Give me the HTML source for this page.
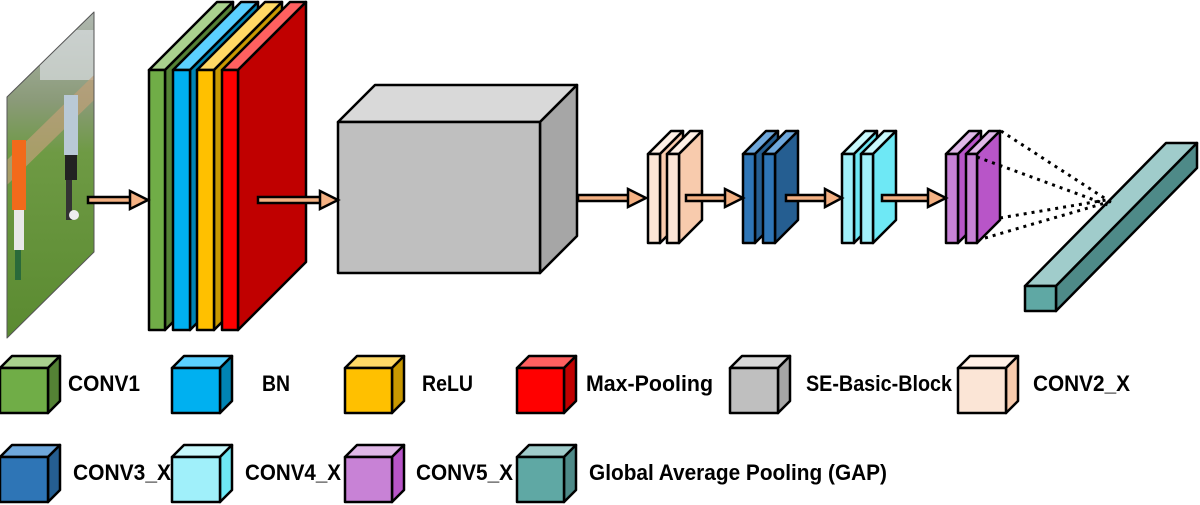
<!DOCTYPE html>
<html><head><meta charset="utf-8"><style>
html,body{margin:0;padding:0;background:#fff;width:1200px;height:505px;overflow:hidden}
svg{display:block}
text{font-family:"Liberation Sans",sans-serif;font-weight:bold;font-size:22px;fill:#000}
</style></head><body>
<svg width="1200" height="505" viewBox="0 0 1200 505" xmlns="http://www.w3.org/2000/svg">
<defs>
<clipPath id="ph"><polygon points="7,97 94,12 94,252 7,338"/></clipPath>
<linearGradient id="sky" x1="0" y1="0" x2="0" y2="1">
<stop offset="0" stop-color="#b5bcb8"/><stop offset="0.3" stop-color="#8a9a78"/><stop offset="0.45" stop-color="#6e9a44"/><stop offset="1" stop-color="#5a8a30"/></linearGradient>
</defs>
<g stroke="#000" stroke-width="2.5" stroke-linejoin="round">
<g clip-path="url(#ph)" stroke="none">
<rect x="0" y="0" width="100" height="340" fill="url(#sky)"/>
<rect x="40" y="30" width="55" height="50" fill="#d8dde0" opacity="0.7"/>
<polygon points="7,160 94,75 94,100 7,185" fill="#c0a078" opacity="0.7"/>
<rect x="12" y="140" width="14" height="70" fill="#f26a1b"/>
<rect x="14" y="210" width="10" height="40" fill="#e8e8e8"/>
<rect x="15" y="250" width="6" height="30" fill="#2a6a3a"/>
<rect x="64" y="95" width="14" height="60" fill="#b9c9d6"/>
<rect x="65" y="155" width="12" height="25" fill="#222"/>
<rect x="66" y="180" width="6" height="40" fill="#333"/>
<circle cx="74" cy="215" r="5" fill="#eee"/>
</g>
<polygon points="7,97 94,12 94,252 7,338" fill="none" stroke="#555" stroke-width="1"/>

<g>
<polygon points="149,70 217,2 233,2 165,70" fill="#a9d18e"/><polygon points="165,70 233,2 233,262 165,330" fill="#548235"/><rect x="149" y="70" width="16" height="260" fill="#70ad47"/>
<polygon points="173,70 241,2 258,2 190,70" fill="#5bd0ff"/><polygon points="190,70 258,2 258,262 190,330" fill="#0084b4"/><rect x="173" y="70" width="17" height="260" fill="#00b0f0"/>
<polygon points="197,70 265,2 282,2 214,70" fill="#ffd966"/><polygon points="214,70 282,2 282,262 214,330" fill="#c89800"/><rect x="197" y="70" width="17" height="260" fill="#ffc000"/>
<polygon points="222,70 290,2 306,2 238,70" fill="#ff6060"/><polygon points="238,70 306,2 306,262 238,330" fill="#c00000"/><rect x="222" y="70" width="16" height="260" fill="#ff0000"/>
</g>

<polygon points="338,122 375,85 577,85 540,122" fill="#d9d9d9"/>
<polygon points="540,122 577,85 577,236 540,273" fill="#a6a6a6"/>
<rect x="338" y="122" width="202" height="151" fill="#bfbfbf"/>

<polygon points="648,154 671,131 683,131 660,154" fill="#fff0e6"/><polygon points="660,154 683,131 683,220 660,243" fill="#f8cbad"/><rect x="648" y="154" width="12" height="89" fill="#fbe5d6"/>
<polygon points="667,154 690,131 702,131 679,154" fill="#fff0e6"/><polygon points="679,154 702,131 702,220 679,243" fill="#f8cbad"/><rect x="667" y="154" width="12" height="89" fill="#fbe5d6"/>
<polygon points="743,154 766,131 778,131 755,154" fill="#6fa8dc"/><polygon points="755,154 778,131 778,220 755,243" fill="#255e91"/><rect x="743" y="154" width="12" height="89" fill="#2e75b6"/>
<polygon points="763,154 786,131 798,131 775,154" fill="#6fa8dc"/><polygon points="775,154 798,131 798,220 775,243" fill="#255e91"/><rect x="763" y="154" width="12" height="89" fill="#2e75b6"/>
<polygon points="842,154 865,131 877,131 854,154" fill="#c8f8fc"/><polygon points="854,154 877,131 877,220 854,243" fill="#6ee8f5"/><rect x="842" y="154" width="12" height="89" fill="#a0f0fa"/>
<polygon points="861,154 884,131 896,131 873,154" fill="#c8f8fc"/><polygon points="873,154 896,131 896,220 873,243" fill="#6ee8f5"/><rect x="861" y="154" width="12" height="89" fill="#a0f0fa"/>
<polygon points="946,154 969,131 981,131 958,154" fill="#e0b8e8"/><polygon points="958,154 981,131 981,220 958,243" fill="#b855c8"/><rect x="946" y="154" width="12" height="89" fill="#c882d6"/>
<polygon points="966,154 989,131 1000,131 977,154" fill="#e0b8e8"/><polygon points="977,154 1000,131 1000,220 977,243" fill="#b855c8"/><rect x="966" y="154" width="11" height="89" fill="#c882d6"/>

<polygon points="1025,286 1166,143 1197,143 1056,286" fill="#a0cccb"/>
<polygon points="1056,286 1197,143 1197,168 1056,311" fill="#4e8a88"/>
<rect x="1025" y="286" width="31" height="25" fill="#5fa8a4"/>
</g>

<g stroke="#000" stroke-width="3" stroke-dasharray="3,5" fill="none">
<line x1="1001" y1="131" x2="1112" y2="203"/>
<line x1="977" y1="157" x2="1108" y2="205"/>
<line x1="1000" y1="218" x2="1106" y2="200"/>
<line x1="985" y1="238" x2="1112" y2="201"/>
</g>

<g stroke="#000" stroke-width="2.5" fill="#f4b183" stroke-linejoin="miter">
<rect x="88" y="197" width="44" height="6"/><polygon points="130,191 148,200 130,209"/>
<rect x="258" y="197" width="63" height="6"/><polygon points="320,191 338,200 320,209"/>
<rect x="578" y="195" width="51" height="6"/><polygon points="628,189 646,198 628,207"/>
<rect x="686" y="195" width="40" height="6"/><polygon points="725,189 743,198 725,207"/>
<rect x="786" y="195" width="40" height="6"/><polygon points="825,189 842,198 825,207"/>
<rect x="882" y="195" width="47" height="6"/><polygon points="928,189 946,198 928,207"/>
</g>

<g stroke="#000" stroke-width="2.5" stroke-linejoin="round">
<polygon points="0,368 12,356 60,356 48,368" fill="#a9d18e"/><polygon points="48,368 60,356 60,401 48,413" fill="#548235"/><rect x="0" y="368" width="48" height="45" fill="#70ad47"/>
<polygon points="172,368 184,356 232,356 220,368" fill="#5bd0ff"/><polygon points="220,368 232,356 232,401 220,413" fill="#0084b4"/><rect x="172" y="368" width="48" height="45" fill="#00b0f0"/>
<polygon points="345,368 357,356 404,356 392,368" fill="#ffd966"/><polygon points="392,368 404,356 404,401 392,413" fill="#c89800"/><rect x="345" y="368" width="47" height="45" fill="#ffc000"/>
<polygon points="517,368 529,356 576,356 564,368" fill="#ff6060"/><polygon points="564,368 576,356 576,401 564,413" fill="#c00000"/><rect x="517" y="368" width="47" height="45" fill="#ff0000"/>
<polygon points="730,368 742,356 790,356 778,368" fill="#d9d9d9"/><polygon points="778,368 790,356 790,401 778,413" fill="#a6a6a6"/><rect x="730" y="368" width="48" height="45" fill="#bfbfbf"/>
<polygon points="958,368 970,356 1018,356 1006,368" fill="#fff0e6"/><polygon points="1006,368 1018,356 1018,401 1006,413" fill="#f8cbad"/><rect x="958" y="368" width="48" height="45" fill="#fbe5d6"/>

<polygon points="0,457 12,445 60,445 48,457" fill="#6fa8dc"/><polygon points="48,457 60,445 60,490 48,502" fill="#255e91"/><rect x="0" y="457" width="48" height="45" fill="#2e75b6"/>
<polygon points="172,457 184,445 232,445 220,457" fill="#c8f8fc"/><polygon points="220,457 232,445 232,490 220,502" fill="#6ee8f5"/><rect x="172" y="457" width="48" height="45" fill="#a0f0fa"/>
<polygon points="345,457 357,445 404,445 392,457" fill="#e0b8e8"/><polygon points="392,457 404,445 404,490 392,502" fill="#b855c8"/><rect x="345" y="457" width="47" height="45" fill="#c882d6"/>
<polygon points="517,457 529,445 576,445 564,457" fill="#a0cccb"/><polygon points="564,457 576,445 576,490 564,502" fill="#4e8a88"/><rect x="517" y="457" width="47" height="45" fill="#5fa8a4"/>
</g>

<text x="68" y="391" textLength="72" lengthAdjust="spacingAndGlyphs">CONV1</text>
<text x="262" y="391" textLength="28" lengthAdjust="spacingAndGlyphs">BN</text>
<text x="422" y="391" textLength="51" lengthAdjust="spacingAndGlyphs">ReLU</text>
<text x="586" y="391" textLength="127" lengthAdjust="spacingAndGlyphs">Max-Pooling</text>
<text x="806" y="391" textLength="146" lengthAdjust="spacingAndGlyphs">SE-Basic-Block</text>
<text x="1033" y="391" textLength="97" lengthAdjust="spacingAndGlyphs">CONV2_X</text>
<text x="73" y="480" textLength="98" lengthAdjust="spacingAndGlyphs">CONV3_X</text>
<text x="245" y="480" textLength="96" lengthAdjust="spacingAndGlyphs">CONV4_X</text>
<text x="416" y="480" textLength="97" lengthAdjust="spacingAndGlyphs">CONV5_X</text>
<text x="589" y="480" textLength="298" lengthAdjust="spacingAndGlyphs">Global Average Pooling (GAP)</text>
</svg>
</body></html>
